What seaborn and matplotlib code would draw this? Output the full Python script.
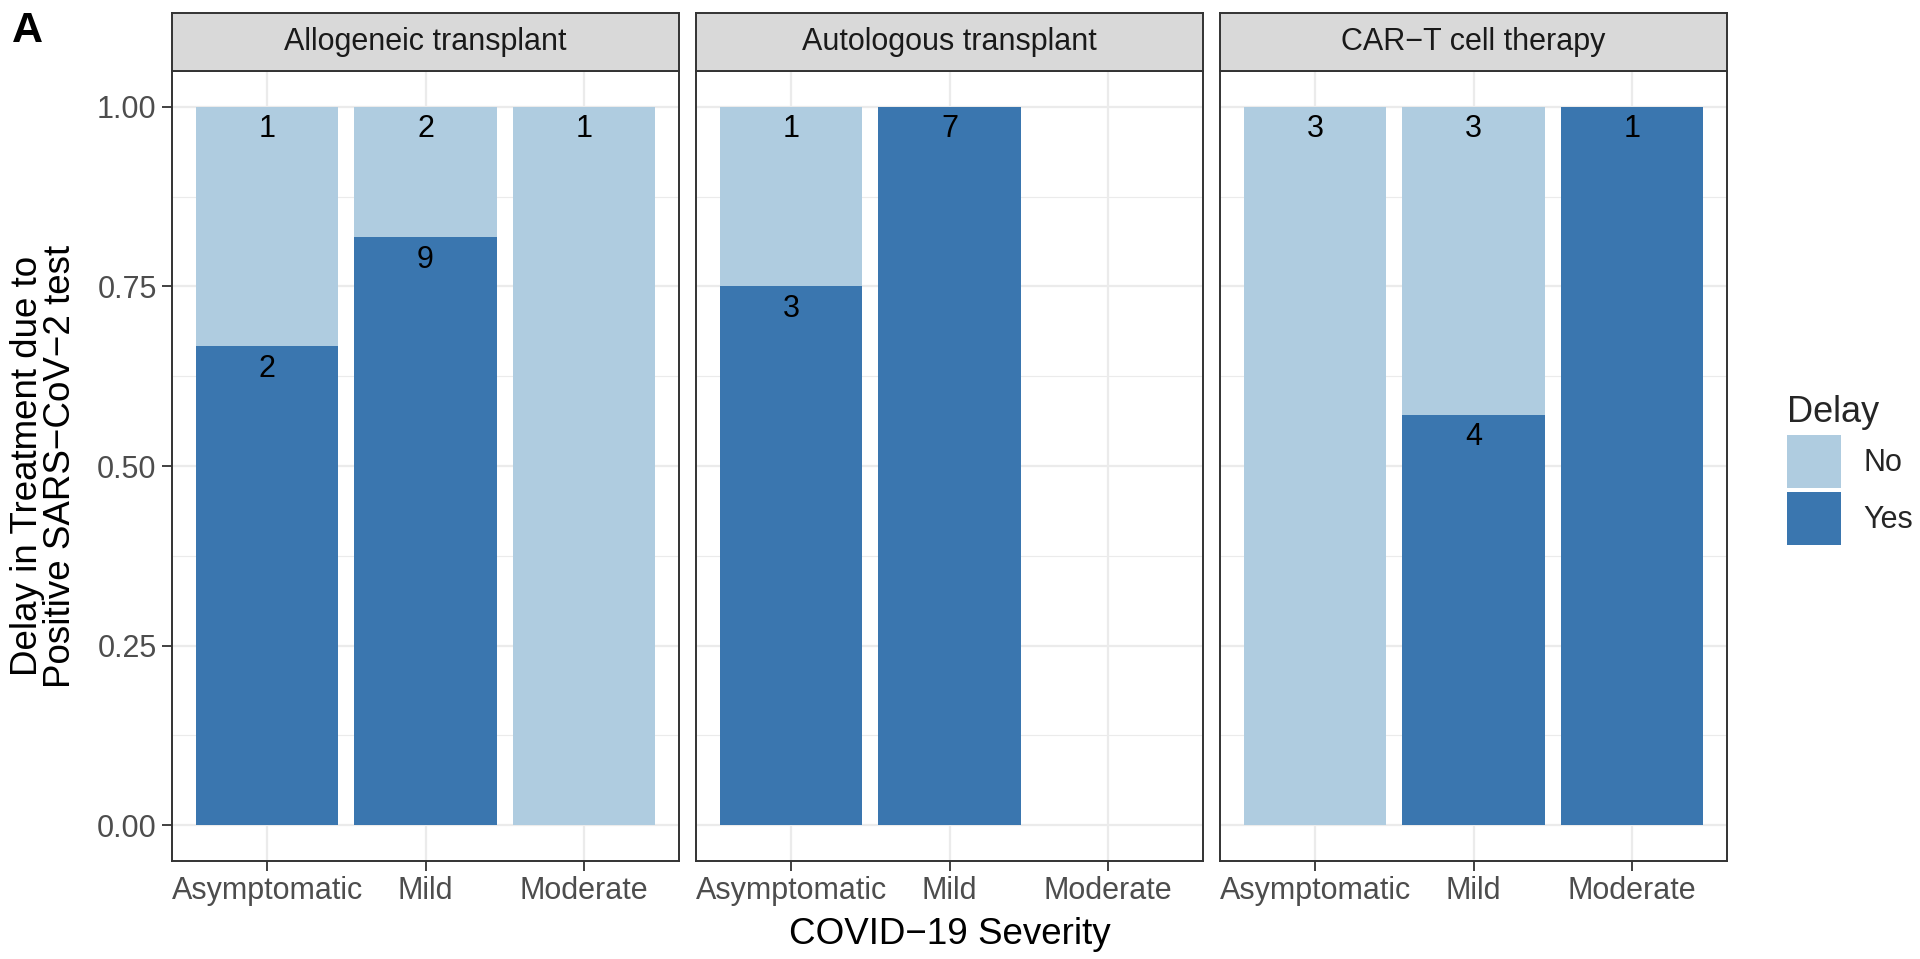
import numpy as np
import pandas as pd
import matplotlib
matplotlib.use("Agg")
import matplotlib.pyplot as plt
from matplotlib.patches import Patch
import seaborn as sns

# data (counts per segment)
therapies = ["Allogeneic transplant", "Autologous transplant", "CAR\u2212T cell therapy"]
severity = ["Asymptomatic", "Mild", "Moderate"]
yes_counts = [[2, 9, 0], [3, 7, 0], [0, 4, 1]]
no_counts = [[1, 2, 1], [1, 0, 0], [3, 3, 0]]
y_ticks = [0, 0.25, 0.5, 0.75, 1.0]
y_ticklabels = ["0.00", "0.25", "0.50", "0.75", "1.00"]

rows = []
for t, yes_row, no_row in zip(therapies, yes_counts, no_counts):
    for s, yv, nv in zip(severity, yes_row, no_row):
        tot = yv + nv
        rows.append({"therapy": t, "severity": s, "yes": yv, "no": nv,
                     "fill_total": 1.0 if tot > 0 else 0.0,
                     "fill_yes": yv / tot if tot > 0 else 0.0})
df = pd.DataFrame(rows)

light = "#AFCCE0"
dark = "#3A76AF"
border = "#333333"

sns.set_theme(style="white")
plt.rcParams["font.family"] = ["Liberation Sans", "DejaVu Sans"]

W, H = 1920, 959
fig = plt.figure(figsize=(W / 100, H / 100), dpi=100)

panel_x = [172, 696, 1220]
panel_w = 507
p_top, p_bot = 71, 861
strip_top = 13

for k, t in enumerate(therapies):
    sub = df[df["therapy"] == t]
    ax = fig.add_axes([panel_x[k] / W, 1 - p_bot / H, panel_w / W, (p_bot - p_top) / H])
    sns.barplot(data=sub, x="severity", y="fill_total", order=severity, color=light,
                saturation=1, width=0.9, errorbar=None, ax=ax, zorder=2, linewidth=0)
    sns.barplot(data=sub, x="severity", y="fill_yes", order=severity, color=dark,
                saturation=1, width=0.9, errorbar=None, ax=ax, zorder=3, linewidth=0)

    for i, s in enumerate(severity):
        r = sub[sub["severity"] == s].iloc[0]
        if r["no"] > 0:
            ax.annotate(str(int(r["no"])), (i, r["fill_total"]), xytext=(0, -16),
                        textcoords="offset points", ha="center", va="center",
                        fontsize=22, color="black", zorder=5)
        if r["yes"] > 0:
            ax.annotate(str(int(r["yes"])), (i, r["fill_yes"]), xytext=(0, -16),
                        textcoords="offset points", ha="center", va="center",
                        fontsize=22, color="black", zorder=5)

    ax.set_xlim(-0.6, 2.6)
    ax.set_ylim(-0.05, 1.05)
    ax.set_yticks(y_ticks)
    ax.set_yticks([0.125, 0.375, 0.625, 0.875], minor=True)
    ax.grid(True, which="major", color="#EBEBEB", lw=1.6, zorder=0)
    ax.grid(True, which="minor", axis="y", color="#EBEBEB", lw=0.8, zorder=0)
    ax.set_axisbelow(True)
    ax.set_xlabel("")
    ax.set_ylabel("")
    ax.tick_params(axis="x", which="major", length=7, width=1.3, color=border,
                   labelsize=22, labelcolor="#4D4D4D", pad=4, bottom=True)
    ax.tick_params(axis="y", which="minor", length=0)
    if k == 0:
        ax.set_yticklabels(y_ticklabels)
        ax.tick_params(axis="y", which="major", length=7, width=1.3, color=border,
                       labelsize=22, labelcolor="#4D4D4D", pad=4, left=True)
    else:
        ax.tick_params(axis="y", which="major", length=0, labelleft=False)
    for sp in ax.spines.values():
        sp.set_color(border)
        sp.set_linewidth(1.4)
        sp.set_visible(True)

    # facet strip
    sax = fig.add_axes([panel_x[k] / W, 1 - p_top / H, panel_w / W, (p_top - strip_top) / H])
    sax.set_facecolor("#D9D9D9")
    sax.set_xticks([])
    sax.set_yticks([])
    for sp in sax.spines.values():
        sp.set_color(border)
        sp.set_linewidth(1.4)
        sp.set_visible(True)
    sax.text(0.5, 0.5, t, ha="center", va="center", fontsize=22, color="#1A1A1A",
             transform=sax.transAxes)

fig.text(950 / W, 1 - 935 / H, "COVID\u221219 Severity", ha="center", va="center",
         fontsize=26.5, color="black")
fig.text(44 / W, 1 - (p_top + p_bot) / 2 / H,
         "Delay in Treatment due to\nPositive SARS\u2212CoV\u22122 test",
         ha="center", va="center", rotation=90, fontsize=26.5, color="black",
         linespacing=0.92)
fig.text(12 / W, 1 - 11 / H, "A", ha="left", va="top", fontsize=31,
         fontweight="bold", color="black")

handles = [Patch(facecolor=light, edgecolor="none", label="No"),
           Patch(facecolor=dark, edgecolor="none", label="Yes")]
fig.legend(handles=handles, title="Delay", loc="upper left",
           bbox_to_anchor=(1772 / W, 1 - 380 / H), frameon=False, fontsize=22,
           title_fontsize=26, handlelength=1.77, handleheight=2.28,
           handletextpad=0.72, labelspacing=0.15, borderpad=0, alignment="left")

fig.savefig("out.png", dpi=100)
